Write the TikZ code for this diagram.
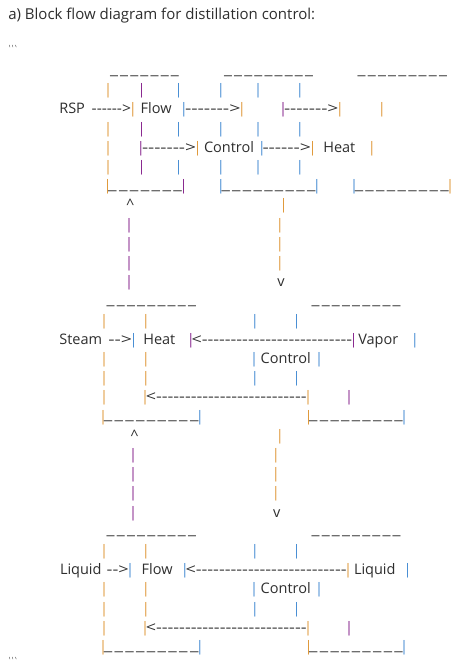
\documentclass[tikz,border=0pt]{standalone}
\usepackage{fontspec}
\setmainfont{Open Sans}[Ligatures=TeXOff]
\usepackage{graphicx}
\definecolor{ink}{HTML}{2E2E2E}
\definecolor{po}{HTML}{E09A3C}
\definecolor{pb}{HTML}{4A8FD4}
\definecolor{pu}{HTML}{8A2A90}
\newcount\mynid
\newsavebox\myfitbox
\newcommand\myfitw[2]{\sbox\myfitbox{#2}\pgfmathsetmacro\myfitsx{(#1)/\the\wd\myfitbox}\scalebox{\myfitsx}[1]{\usebox\myfitbox}}
\newcommand\mytx[3]{\global\advance\mynid by 1 \node[txt] (n\the\mynid) at (#1,{75.5+19.2*(#2)}) {#3};}
\newcommand\mypp[3]{\global\advance\mynid by 1 \node[pipe,#3] (n\the\mynid) at ({#1+0.8},{75.5+19.2*(#2)}) {|};}
\newcommand\myft[4]{\global\advance\mynid by 1 \node[txt] (n\the\mynid) at (#1,{75.5+19.2*(#3)}) {\myfitw{#2-#1}{#4}};}
\newcommand\myun[4]{\global\advance\mynid by 1 \node[txt,yshift=1.5pt] (n\the\mynid) at (#1,{75.5+19.2*(#3)}) {\myfitw{#2-#1}{#4}};}
\newcommand\myU{\textunderscore\kern1.8pt}
\newcommand\myUsev{\myU\myU\myU\myU\myU\myU\textunderscore}
\newcommand\myUnin{\myU\myU\myU\myU\myU\myU\myU\myU\textunderscore}
\newcommand\mylong{<--------------------------}
\tikzset{
  txt/.style={anchor=base west, inner sep=0pt, outer sep=0pt, text=ink, font=\fontsize{14.5}{17}\selectfont},
  pipe/.style={anchor=base, inner sep=0pt, outer sep=0pt, font=\fontsize{14.5}{17}\selectfont},
  caret/.style={anchor=base, inner sep=0pt, outer sep=0pt, text=ink, font=\fontsize{14.5}{17}\selectfont}
}
\begin{document}
\begin{tikzpicture}[x=1pt,y=-1pt]
\path[fill=white,use as bounding box] (0,0) rectangle (464,670);
\node[txt,font=\fontsize{15}{18}\selectfont] (title) at (8.3,19.8) {a) Block flow diagram for distillation control:};
\node[txt] (fence1) at (8,56) {\myfitw{9.5}{```}};
\node[txt] (fence2) at (8,668) {\myfitw{9.5}{```}};
% ---------- block 1 ----------
\myun{110}{179}{0}{\myUsev}
\myun{224}{313}{0}{\myUnin}
\myun{357.7}{447}{0}{\myUnin}
\foreach \k in {1,3,5}{
  \mypp{107.3}{\k}{po}\mypp{140.7}{\k}{pu}\mypp{177.7}{\k}{pb}
  \mypp{220}{\k}{pb}\mypp{257.3}{\k}{pb}\mypp{299}{\k}{pb}
}
\mytx{59.3}{2}{RSP}
\myft{91.7}{131}{2}{------>}
\mypp{132}{2}{po}
\mytx{140.7}{2}{Flow}
\mypp{183}{2}{pb}
\myft{185}{240.5}{2}{------->}
\mypp{241}{2}{po}
\mypp{282.3}{2}{pu}
\myft{284}{338.5}{2}{------->}
\mypp{339}{2}{po}
\mypp{381}{2}{po}
\mypp{107.3}{4}{po}
\mypp{140}{4}{pu}
\myft{142}{196}{4}{------->}
\mypp{196.7}{4}{po}
\mytx{204}{4}{Control}
\mypp{261}{4}{pb}
\myft{262.5}{311}{4}{------>}
\mypp{311.7}{4}{po}
\mytx{323.3}{4}{Heat}
\mypp{371}{4}{po}
\mypp{106.7}{6}{po}
\myun{108.2}{182}{6}{\myUsev}
\mypp{182.7}{6}{pu}
\mypp{220}{6}{pb}
\myun{221.5}{315.5}{6}{\myUnin}
\mypp{316}{6}{pb}
\mypp{353.3}{6}{pb}
\myun{354.8}{448.8}{6}{\myUnin}
\mypp{449.3}{6}{po}
\node[caret] (up1) at (130.3,{75.5+19.2*7}) {\textasciicircum};
\mypp{282.7}{7}{po}
\foreach \k in {8,9,10}{\mypp{128.3}{\k}{pu}\mypp{279}{\k}{po}}
\mypp{128.3}{11}{pu}
\node[caret] (dn1) at (281,{75.5+19.2*11}) {v};
% ---------- block 2 ----------
\myun{106.7}{196}{12}{\myUnin}
\myun{311.7}{400.7}{12}{\myUnin}
\foreach \k in {13,16,25,28}{
  \mypp{103.3}{\k}{po}\mypp{145}{\k}{po}\mypp{254}{\k}{pb}\mypp{295.7}{\k}{pb}
}
\mytx{59.3}{14}{Steam}
\myft{108.3}{132}{14}{-->}
\mypp{132.7}{14}{pb}
\mytx{143.3}{14}{Heat}
\mypp{190}{14}{pu}
\myft{191.5}{352}{14}{\mylong}
\mypp{352.7}{14}{pu}
\mytx{358.3}{14}{Vapor}
\mypp{414}{14}{pb}
\foreach \k in {15,27}{
  \mypp{103.3}{\k}{po}\mypp{145}{\k}{po}\mypp{253.3}{\k}{pb}
  \mytx{260.7}{\k}{Control}
  \mypp{318.3}{\k}{pb}
}
\foreach \k in {17,29}{
  \mypp{103.3}{\k}{po}\mypp{144.3}{\k}{po}
  \myft{145.8}{306.5}{\k}{\mylong}
  \mypp{307.3}{\k}{po}\mypp{348.3}{\k}{pu}
}
\foreach \k in {18,30}{
  \mypp{102.3}{\k}{po}
  \myun{103.8}{198.5}{\k}{\myUnin}
  \mypp{199}{\k}{pb}
  \mypp{307.7}{\k}{po}
  \myun{309.2}{402.8}{\k}{\myUnin}
  \mypp{403.3}{\k}{pb}
}
\node[caret] (up2) at (134.5,{75.5+19.2*19}) {\textasciicircum};
\mypp{279}{19}{po}
\foreach \k in {20,21,22}{\mypp{132.3}{\k}{pu}\mypp{275}{\k}{po}}
\mypp{132.3}{23}{pu}
\node[caret] (dn2) at (276.7,{75.5+19.2*23}) {v};
% ---------- block 3 ----------
\myun{106.7}{196}{24}{\myUnin}
\myun{311.7}{400.7}{24}{\myUnin}
\mytx{60}{26}{Liquid}
\myft{106.7}{128.7}{26}{-->}
\mypp{129.3}{26}{pb}
\mytx{141.7}{26}{Flow}
\mypp{184}{26}{pb}
\myft{185.5}{346.5}{26}{\mylong}
\mypp{347.3}{26}{po}
\mytx{354}{26}{Liquid}
\mypp{406.7}{26}{pb}
\end{tikzpicture}
\end{document}
